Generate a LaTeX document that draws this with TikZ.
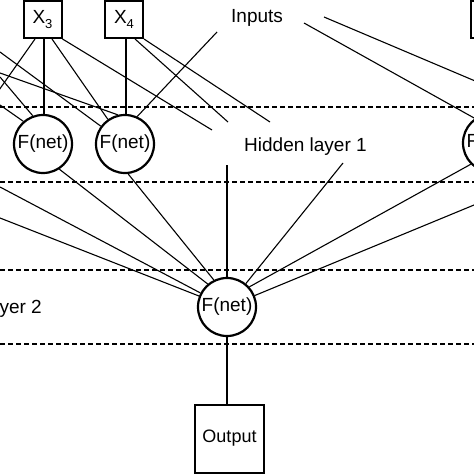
\documentclass[tikz,border=0pt]{standalone}
\usepackage{fontspec}
\setmainfont{Liberation Sans}
\usetikzlibrary{calc}
\newcommand\idxsub[1]{\raisebox{-0.45ex}{\fontsize{13}{13}\selectfont #1}}
\begin{document}
\begin{tikzpicture}[x=1pt,y=-1pt,
  conn/.style={line width=1.1pt},
  neuron/.style={circle,draw,line width=2.2pt,fill=white,minimum size=58pt,inner sep=0pt,font=\fontsize{19}{19}\selectfont},
  inbox/.style={rectangle,draw,line width=2pt,fill=white,minimum width=38pt,minimum height=37pt,inner sep=0pt,font=\fontsize{19}{19}\selectfont},
  sepline/.style={dash pattern=on 5pt off 3pt,line width=2pt},
  lbl/.style={inner sep=0pt,font=\fontsize{19}{19}\selectfont}]
\useasboundingbox (0,0) rectangle (474,474);
\clip (0,0) rectangle (474,474);
\fill[white] (0,0) rectangle (474,474);

% layer separators
\draw[sepline] (0,107) -- (474,107);
\draw[sepline] (0,182) -- (474,182);
\draw[sepline] (0,270) -- (474,270);
\draw[sepline] (0,344) -- (474,344);

% nodes
\node[inbox] (x3) at (42.5,19.5) {X\idxsub{3}};
\node[inbox] (x4) at (124,19.5) {X\idxsub{4}};
\node[inbox] (xn) at (490,19.5) {};
\node[neuron] (h1) at (43,144) {F(net)};
\node[neuron] (h2) at (125,144) {F(net)};
\node[neuron] (h4) at (492,143) {F(net)};
\node[neuron] (o) at (227,307) {F(net)};
\node[inbox,minimum width=69pt,minimum height=68pt,font=\fontsize{18}{18}\selectfont] (out) at (229.5,438.5) {Output};

% labels
\node[lbl,anchor=base west] (inputs) at (231,22) {Inputs};
\node[lbl,anchor=base west] (hl1) at (244,151) {Hidden layer 1};
\node[lbl,anchor=base east] (hl2) at (42,313) {Hidden layer 2};

% free ends
\coordinate (hl0) at (-39,144);
\coordinate (cut1) at (212,130);
\coordinate (cut2) at (228,122);
\coordinate (cut3) at (270,122);
\coordinate (lft1) at (0,52);
\coordinate (lft2) at (0,73);
\coordinate (lft3) at (0,77);
\coordinate (lft4) at (0,105);
\coordinate (inp1) at (217,32);
\coordinate (inp2) at (304,23);
\coordinate (inp3) at (324,17);
\coordinate (rgt1) at (520,100);
\coordinate (hid1) at (227,165);
\coordinate (hid2) at (343,163);
\coordinate (lft5) at (0,187);
\coordinate (lft6) at (0,218);
\coordinate (rgt2) at (474,205);

% input -> hidden layer 1
\draw[conn] ([xshift=-7.5pt]x3.south) -- (hl0);
\draw[conn] ([xshift=1.5pt]x3.south) -- ([xshift=1pt]h1.north);
\draw[conn] ([xshift=9.5pt]x3.south) -- (h2);
\draw[conn] (x3.south east) -- (cut1);
\draw[conn] ([xshift=2pt]x4.south) -- ([xshift=1pt]h2.north);
\draw[conn] ([xshift=11pt]x4.south) -- (cut2);
\draw[conn] (x4.south east) -- (cut3);
\draw[conn] (lft1) -- (h2);
\draw[conn] (lft2) -- (h2.104);
\draw[conn] (lft3) -- (h1.110);
\draw[conn] (lft4) -- (h1.131);
\draw[conn] (inp1) -- (h2.66);
\draw[conn] (inp2) -- (h4.125);
\draw[conn] (inp3) -- (rgt1);

% hidden layer 1 -> hidden layer 2
\draw[conn] (h1.-57) -- (o.130);
\draw[conn] (h2.-84) -- (o.116);
\draw[conn] (h4.-135) -- (o.42);
\draw[conn] (lft5) -- (o);
\draw[conn] (lft6) -- (o);
\draw[conn] (hid1) -- (o.north);
\draw[conn] (hid2) -- (o);
\draw[conn] (rgt2) -- (o);

% hidden layer 2 -> output
\draw[conn] (o.south) -- (o.south |- out.north);
\end{tikzpicture}
\end{document}
